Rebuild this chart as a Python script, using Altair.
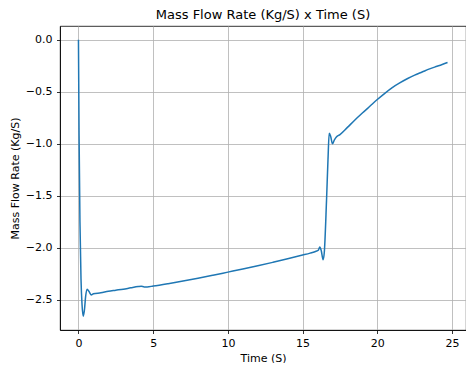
import altair as alt
import pandas as pd

time_s = [0, 0.04, 0.1, 0.17, 0.24, 0.32, 0.4, 0.48, 0.58, 0.7, 0.85, 1.0, 1.5, 2, 2.5, 3, 3.5,
          4, 4.2, 4.4, 4.6, 5, 6, 7, 8, 9, 10, 11, 12, 13, 14, 15, 15.5, 15.9, 16.05, 16.15,
          16.25, 16.37, 16.45, 16.6, 16.7, 16.78, 16.88, 17.0, 17.12, 17.26, 17.5, 18, 18.5,
          19, 19.5, 20, 20.5, 21, 21.5, 22, 22.5, 23, 23.5, 24, 24.3, 24.7]
mass_flow = [0, -0.9, -1.75, -2.3, -2.55, -2.66, -2.6, -2.47, -2.40, -2.42, -2.455, -2.445,
             -2.435, -2.42, -2.41, -2.40, -2.387, -2.375, -2.372, -2.378, -2.378, -2.37, -2.347,
             -2.322, -2.295, -2.266, -2.236, -2.206, -2.175, -2.142, -2.108, -2.072, -2.053,
             -2.035, -2.025, -1.995, -2.03, -2.117, -2.05, -1.55, -1.15, -0.90, -0.93, -1.0,
             -0.965, -0.935, -0.912, -0.843, -0.772, -0.705, -0.64, -0.575, -0.515, -0.46,
             -0.415, -0.375, -0.34, -0.31, -0.28, -0.255, -0.24, -0.218]

x_ticks = [0, 5, 10, 15, 20, 25]
y_ticks = [0.0, -0.5, -1.0, -1.5, -2.0, -2.5]

df = pd.DataFrame({"t": time_s, "m": mass_flow})

chart = alt.Chart(df).mark_line(
    color="#1f77b4", strokeWidth=1.5, interpolate="monotone", clip=True
).encode(
    x=alt.X("t:Q",
            scale=alt.Scale(domain=[-1.235, 25.935], nice=False, zero=False),
            axis=alt.Axis(title="Time (S)", values=x_ticks, format="d",
                          labelPadding=3.5, titlePadding=4)),
    y=alt.Y("m:Q",
            scale=alt.Scale(domain=[-2.793, 0.133], nice=False, zero=False),
            axis=alt.Axis(title="Mass Flow Rate (Kg/S)", values=y_ticks, format=".1f",
                          labelPadding=4.5, titlePadding=5)),
).properties(
    width=406, height=304,
    title=alt.TitleParams("Mass Flow Rate (Kg/S) x Time (S)", fontSize=13,
                          font="DejaVu Sans", fontWeight="normal", color="black",
                          offset=4, anchor="middle"),
    padding={"left": 52, "top": 18, "right": 0, "bottom": 33},
    autosize=alt.AutoSizeParams(type="none"),
).configure_view(
    stroke="black", strokeWidth=0.8
).configure_axis(
    domainColor="black", domainWidth=0.8, tickColor="black", tickSize=3.5, tickWidth=0.8,
    labelFont="DejaVu Sans", labelFontSize=11, labelColor="black",
    titleFont="DejaVu Sans", titleFontSize=11, titleFontWeight="normal", titleColor="black",
    grid=True, gridColor="#b0b0b0", gridWidth=0.8
)

chart.save("out.html", embed_options={"renderer": "svg", "actions": False})
